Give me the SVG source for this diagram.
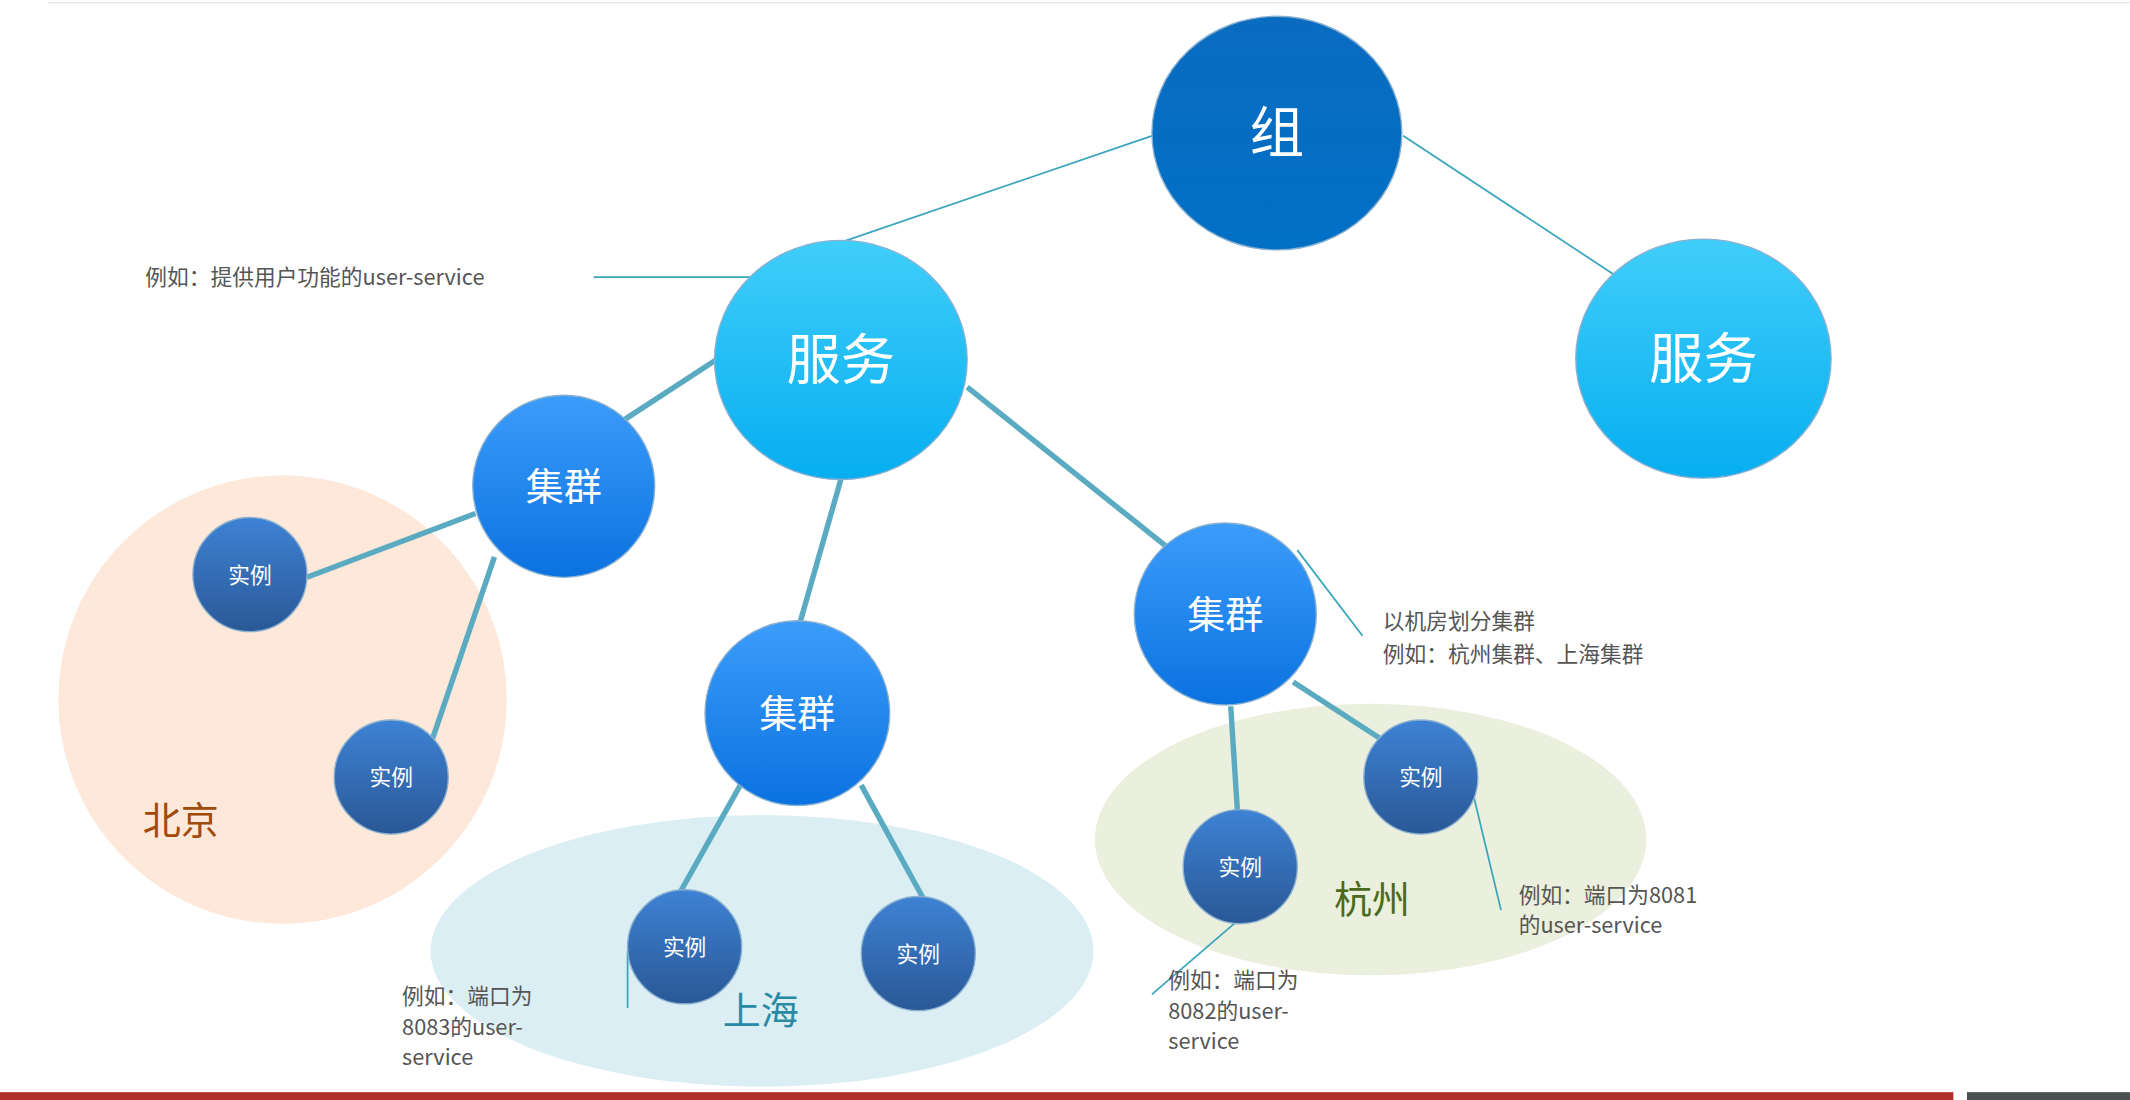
<svg xmlns="http://www.w3.org/2000/svg" width="2130" height="1100" viewBox="0 0 2130 1100">
<defs>
<linearGradient id="gz" x1="0" y1="0" x2="0" y2="1"><stop offset="0" stop-color="#0a6cc0"/><stop offset="1" stop-color="#0070c6"/></linearGradient>
<linearGradient id="gf" x1="0" y1="0" x2="0" y2="1"><stop offset="0" stop-color="#40cefa"/><stop offset="1" stop-color="#06aef0"/></linearGradient>
<linearGradient id="gj" x1="0" y1="0" x2="0" y2="1"><stop offset="0" stop-color="#3c9cfa"/><stop offset="1" stop-color="#0a72e0"/></linearGradient>
<linearGradient id="gs" x1="0" y1="0" x2="0" y2="1"><stop offset="0" stop-color="#3e82d4"/><stop offset="1" stop-color="#2a5896"/></linearGradient>
<style>
text{font-family:"Noto Sans CJK SC","Noto Sans",sans-serif}
.w{fill:#fff;text-anchor:middle}
.a{fill:#555;font-size:16px}
.thin{stroke:#3aa6bc;stroke-width:1.3;fill:none}
.thick{stroke:#5aaac2;stroke-width:4;fill:none}
.nd{stroke:#8ab0d0;stroke-width:1}
</style>
</defs>
<rect width="2130" height="1100" fill="#fff"/>
<g transform="scale(1.3584)">
<line x1="35" y1="2" x2="1568" y2="2" stroke="#e8e8e8"/>
<g id="regions">
<circle cx="208" cy="515" r="165" fill="#fde8d9"/>
<ellipse cx="561" cy="700" rx="244" ry="100" fill="#dbeef4"/>
<ellipse cx="1009" cy="618" rx="203" ry="100" fill="#ebefdd"/>
<text x="133" y="614" font-size="28" fill="#a24a0c" text-anchor="middle">北京</text>
<text x="560" y="754" font-size="28" fill="#2a8aa2" text-anchor="middle">上海</text>
<text x="1010" y="672" font-size="28" fill="#4a6a20" text-anchor="middle">杭州</text>
</g>
<g id="connectors">
<line class="thin" x1="848" y1="100" x2="620" y2="178"/>
<line class="thin" x1="1033" y1="100" x2="1188" y2="202"/>
<line class="thick" x1="527" y1="265" x2="458" y2="310"/>
<line class="thick" x1="619" y1="353" x2="589" y2="458"/>
<line class="thick" x1="712" y1="285" x2="862" y2="405"/>
<line class="thick" x1="350" y1="378" x2="226" y2="425"/>
<line class="thick" x1="364" y1="410" x2="318" y2="545"/>
<line class="thick" x1="545" y1="578" x2="500" y2="658"/>
<line class="thick" x1="634" y1="578" x2="680" y2="662"/>
<line class="thick" x1="906" y1="520" x2="911" y2="598"/>
<line class="thick" x1="952" y1="502" x2="1018" y2="545"/>
<line class="thin" x1="437" y1="204" x2="553" y2="204"/>
<line class="thin" x1="955" y1="405" x2="1003" y2="468"/>
<line class="thin" x1="1075" y1="545" x2="1105" y2="670"/>
<line class="thin" x1="955" y1="640" x2="848" y2="732"/>
<line class="thin" x1="462" y1="700" x2="462" y2="742"/>
</g>
<g id="n-zu"><ellipse class="nd" cx="940" cy="98" rx="92" ry="86" fill="url(#gz)"/><text class="w" x="940" y="112" font-size="40">组</text></g>
<g id="n-fw1"><ellipse class="nd" cx="619" cy="265" rx="93" ry="88" fill="url(#gf)"/><text class="w" x="619" y="279" font-size="40">服务</text></g>
<g id="n-fw2"><ellipse class="nd" cx="1254" cy="264" rx="94" ry="88" fill="url(#gf)"/><text class="w" x="1254" y="278" font-size="40">服务</text></g>
<g id="n-jq1"><circle class="nd" cx="415" cy="358" r="67" fill="url(#gj)"/><text class="w" x="415" y="368" font-size="28">集群</text></g>
<g id="n-jq2"><circle class="nd" cx="587" cy="525" r="68" fill="url(#gj)"/><text class="w" x="587" y="535" font-size="28">集群</text></g>
<g id="n-jq3"><circle class="nd" cx="902" cy="452" r="67" fill="url(#gj)"/><text class="w" x="902" y="462" font-size="28">集群</text></g>
<g id="n-sl1"><circle class="nd" cx="184" cy="423" r="42" fill="url(#gs)"/><text class="w" x="184" y="429" font-size="16">实例</text></g>
<g id="n-sl2"><circle class="nd" cx="288" cy="572" r="42" fill="url(#gs)"/><text class="w" x="288" y="578" font-size="16">实例</text></g>
<g id="n-sl3"><circle class="nd" cx="504" cy="697" r="42" fill="url(#gs)"/><text class="w" x="504" y="703" font-size="16">实例</text></g>
<g id="n-sl4"><circle class="nd" cx="676" cy="702" r="42" fill="url(#gs)"/><text class="w" x="676" y="708" font-size="16">实例</text></g>
<g id="n-sl5"><circle class="nd" cx="913" cy="638" r="42" fill="url(#gs)"/><text class="w" x="913" y="644" font-size="16">实例</text></g>
<g id="n-sl6"><circle class="nd" cx="1046" cy="572" r="42" fill="url(#gs)"/><text class="w" x="1046" y="578" font-size="16">实例</text></g>
<g id="notes">
<text class="a" x="107" y="210">例如：提供用户功能的user-service</text>
<text class="a" x="1018" y="463">以机房划分集群</text>
<text class="a" x="1018" y="487">例如：杭州集群、上海集群</text>
<text class="a" x="1118" y="665">例如：端口为8081</text>
<text class="a" x="1118" y="687">的user-service</text>
<text class="a" x="860" y="727">例如：端口为</text>
<text class="a" x="860" y="750">8082的user-</text>
<text class="a" x="860" y="772">service</text>
<text class="a" x="296" y="739">例如：端口为</text>
<text class="a" x="296" y="762">8083的user-</text>
<text class="a" x="296" y="784">service</text>
</g>
<rect x="0" y="804" width="1438" height="6" fill="#b0302c"/>
<rect x="1448" y="804" width="120" height="6" fill="#4a4f4f"/>
</g>
</svg>
